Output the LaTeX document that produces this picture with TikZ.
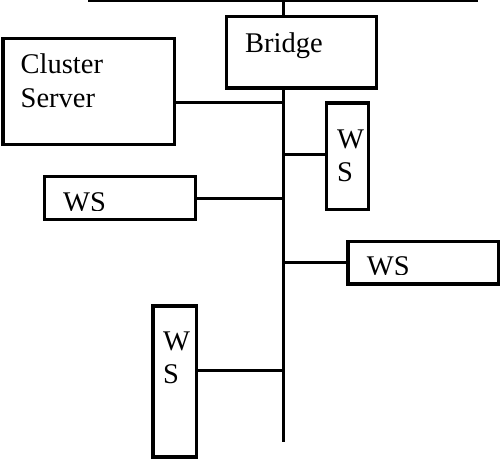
\documentclass[tikz,border=0pt]{standalone}
\usepackage{fontspec}
\setmainfont{Liberation Serif}
\newfontfamily\timesfont{Liberation Serif}
\begin{document}
\begin{tikzpicture}[x=1pt,y=-1pt,
  box/.style={draw,line width=3.4pt,rectangle,inner sep=0pt},
  wire/.style={line width=3pt},
  lbl/.style={inner sep=0pt,anchor=base west,font=\timesfont\fontsize{28.5}{33}\selectfont}]
\useasboundingbox (0,0) rectangle (500,458);
% boxes
\node[box,minimum width=150pt,minimum height=71.5pt] (bridge) at (301.5,52.25) {};
\node[box,minimum width=171.5pt,minimum height=106pt] (cluster) at (88.75,91.5) {};
\node[box,minimum width=42pt,minimum height=106.5pt] (ws1) at (347.5,156.25) {};
\node[box,minimum width=151pt,minimum height=43pt] (ws2) at (120,198) {};
\node[box,minimum width=150.5pt,minimum height=42.5pt] (ws3) at (423.25,262.75) {};
\node[box,minimum width=43.5pt,minimum height=151pt] (ws4) at (174.75,381.5) {};
% labels
\node[lbl] (tbridge) at (245,52.7) {Bridge};
\node[lbl] (tcl1) at (20.5,73.5) {Cluster};
\node[lbl] (tcl2) at (20.5,107.5) {Server};
\node[lbl] (tw1a) at (337,148) {W};
\node[lbl] (tw1b) at (337,181.5) {S};
\node[lbl] (tw4a) at (163,350) {W};
\node[lbl] (tw4b) at (163,383.5) {S};
\begin{scope}
\clip (46,178) rectangle (194,210);
\node[lbl] (tw2) at (63,211.5) {WS};
\end{scope}
\begin{scope}
\clip (350,243) rectangle (497,274.7);
\node[lbl] (tw3) at (366.7,275.8) {WS};
\end{scope}
% network lines
\coordinate (tl) at (88,0.5);
\coordinate (tr) at (478,0.5);
\coordinate (bustop) at (283,0.5);
\coordinate (busend) at (283,442);
\coordinate (j1) at (283,102.3);
\coordinate (j2) at (283,154);
\coordinate (j3) at (283,198.3);
\coordinate (j4) at (283,262);
\coordinate (j5) at (283,370.5);
\draw[wire] (tl) -- (tr);
\draw[wire] (bustop) -- (bustop |- bridge.north);
\draw[wire] (bustop |- bridge.south) -- (busend);
\draw[wire] (j1) -- (j1 -| cluster.east);
\draw[wire] (j2) -- (j2 -| ws1.west);
\draw[wire] (j3) -- (j3 -| ws2.east);
\draw[wire] (j4) -- (j4 -| ws3.west);
\draw[wire] (j5) -- (j5 -| ws4.east);
\end{tikzpicture}
\end{document}
